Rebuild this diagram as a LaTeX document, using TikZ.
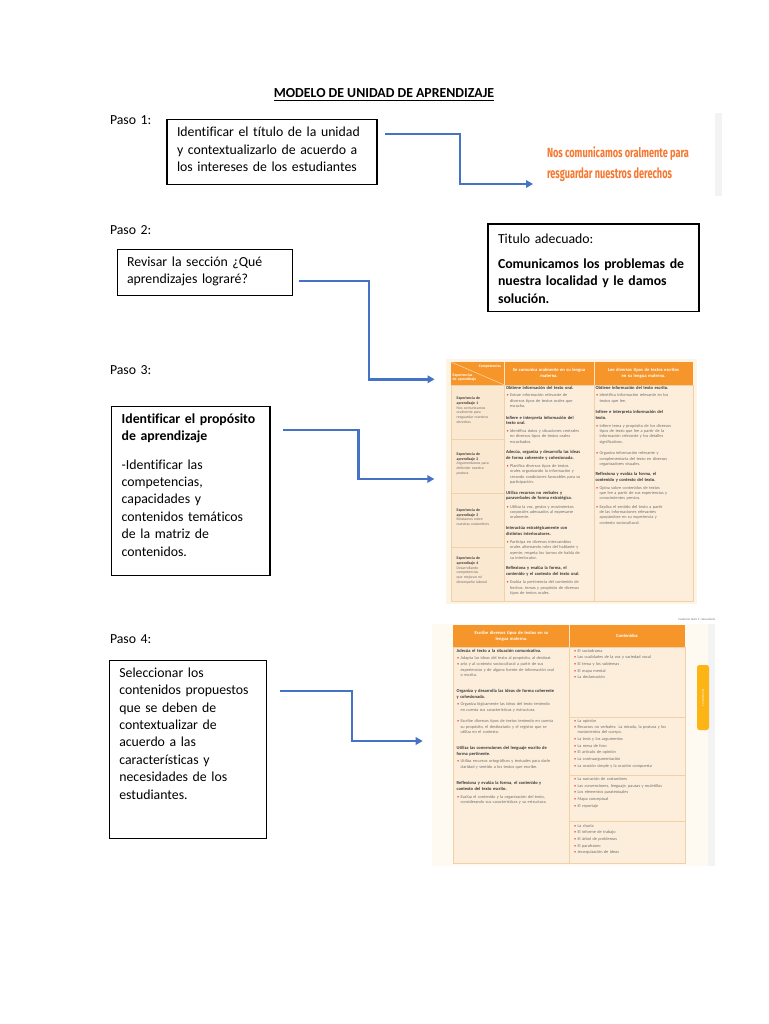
\documentclass[tikz,border=0pt]{standalone}
\usepackage{fontspec}
\usepackage{graphicx}
\setmainfont{Carlito}[Ligatures={NoCommon,NoRare}]
\newfontfamily\orfont{Fira Sans}
\usetikzlibrary{arrows.meta,calc}
\definecolor{flowblue}{HTML}{4472C4}
\definecolor{orangetxt}{HTML}{F7772F}
\definecolor{hdr}{HTML}{F6962A}
\definecolor{creamA}{HTML}{FDF4E6}
\definecolor{creamB}{HTML}{FCEEDB}
\definecolor{creamC}{HTML}{FBE8D0}
\definecolor{creamD}{HTML}{FEF9F1}
\definecolor{tline}{HTML}{F1D2A8}
\definecolor{bred}{HTML}{E8412F}
\definecolor{tdark}{HTML}{3A3A3A}
\definecolor{tgray}{HTML}{707070}
\definecolor{tabyel}{HTML}{FDB515}
\definecolor{strip}{HTML}{F3F3F3}
\newcommand\bu{\makebox[3.6pt][l]{\textcolor{bred}{\textbullet}}}
\newcommand\ct{\hspace*{3.6pt}}
\newcommand\xb[1]{\textcolor{tdark}{\textbf{#1}}}
\tikzset{
 every node/.style={inner sep=0pt, outer sep=0pt},
 stepbox/.style={draw=black, line width=1.2pt, fill=white, anchor=north west},
 maintxt/.style={anchor=base west, align=left, text width=220pt, font=\fontsize{13.8}{17.4}\selectfont},
 mainbf/.style={maintxt, font=\fontsize{13.8}{17.4}\selectfont\bfseries},
 flow/.style={draw=flowblue, line width=2.4pt, -{Triangle[length=7pt,width=7.5pt]}},
 colA/.style={anchor=base west, align=left, text width=60pt, text=tgray, font=\fontsize{3.8}{4.8}\selectfont},
 colH/.style={anchor=base west, align=left, text width=110pt, text=tdark, font=\fontsize{4.5}{5.4}\selectfont\bfseries},
 colB/.style={anchor=base west, align=left, text width=110pt, text=tgray, font=\fontsize{4.3}{5.4}\selectfont},
 tbH/.style={anchor=base west, align=left, text width=130pt, text=tdark, font=\fontsize{4.5}{5.7}\selectfont\bfseries},
 tbB/.style={anchor=base west, align=left, text width=130pt, text=tgray, font=\fontsize{4.3}{5.7}\selectfont},
 tbR/.style={anchor=base west, align=left, text width=130pt, text=tgray, font=\fontsize{4.3}{6.67}\selectfont},
 hdtxt/.style={text=white, font=\fontsize{4.6}{5.7}\selectfont\bfseries, align=center, anchor=base},
 tline/.style={draw=tline, line width=0.6pt}
}
\begin{document}
\begin{tikzpicture}[x=1pt,y=-1pt]
\useasboundingbox (0,0) rectangle (768,1024);
\fill[white] (0,0) rectangle (768,1024);

% title
\node[anchor=base, font=\fontsize{13.8}{17.4}\selectfont\bfseries] (title) at (384,97.3) {MODELO DE UNIDAD DE APRENDIZAJE};
\draw[line width=1pt] ($(title.base west)+(0,3.4)$) -- ($(title.base east)+(0,3.4)$);

% paso labels
\node[maintxt] (p1) at (110,125) {Paso 1:};
\node[maintxt] (p2) at (110,235) {Paso 2:};
\node[maintxt] (p3) at (110,374) {Paso 3:};
\node[maintxt] (p4) at (110,643.3) {Paso 4:};

% boxes
\node[stepbox, minimum width=210, minimum height=65] (b1) at (167,119.5) {};
\node[maintxt] (b1t) at (177,136.7) {Identificar el título de la unidad\\y contextualizarlo de acuerdo a\\los intereses de los estudiantes};

\node[stepbox, minimum width=175, minimum height=46.2] (b2) at (117.5,249.3) {};
\node[maintxt] (b2t) at (127,266.5) {Revisar la sección ¿Qué\\aprendizajes lograré?};

\node[stepbox, minimum width=211, minimum height=87.7] (b5) at (488,224) {};
\node[maintxt] (b5a) at (498,243.3) {Titulo adecuado:};
\node[mainbf] (b5b) at (498,268.3) {Comunicamos los problemas de\\nuestra localidad y le damos\\solución.};

\node[stepbox, minimum width=158.3, minimum height=169] (b3) at (111.7,406.7) {};
\node[mainbf] (b3a) at (121.7,423.3) {Identificar el propósito\\de aprendizaje};
\node[maintxt] (b3b) at (121.7,469) {-Identificar las\\competencias,\\capacidades y\\contenidos temáticos\\de la matriz de\\contenidos.};

\node[stepbox, minimum width=157.4, minimum height=177.6] (b4) at (109.3,660.7) {};
\node[maintxt] (b4t) at (119.3,677.3) {Seleccionar los\\contenidos propuestos\\que se deben de\\contextualizar de\\acuerdo a las\\características y\\necesidades de los\\estudiantes.};

% image 1 (title picture)
\node[fill=white, anchor=north west, minimum width=169, minimum height=83] (img1) at (546,113) {};
\fill[strip] (715,113) rectangle (722,196);
\node[anchor=base west, text=orangetxt] (or1) at (547,158) {\resizebox{142pt}{10.8pt}{\orfont\fontsize{14}{15}\selectfont\bfseries Nos comunicamos oralmente para}};
\node[anchor=base west, text=orangetxt] (or2) at (547,179) {\resizebox{125pt}{10.8pt}{\orfont\fontsize{14}{15}\selectfont\bfseries resguardar nuestros derechos}};

% table 1
\node[fill=creamA, anchor=north west, minimum width=251, minimum height=245] (tab1) at (446,359) {};
\fill[hdr] (451,362) rectangle (693,385);
\fill[creamC] (451,385) rectangle (504.5,601);
\fill[creamB] (504.5,385) rectangle (693,601);
\draw[tline] (451,385) rectangle (693,601);
\draw[tline] (504.5,385) -- (504.5,601) (594,385) -- (594,601);
\draw[tline] (451,439) -- (504.5,439) (451,493) -- (504.5,493) (451,547) -- (504.5,547);
\draw[white!75!hdr, line width=0.6pt] (504.5,362) -- (504.5,385) (594,362) -- (594,385);
\draw[white!65!hdr, line width=0.5pt] (451,362) -- (504.5,385);
\node[anchor=base east, text=white, font=\fontsize{3.8}{4.7}\selectfont\bfseries] (t1h0a) at (501,367.2) {Competencias};
\node[anchor=base west, align=left, text width=50pt, text=white, font=\fontsize{3.8}{4.7}\selectfont\bfseries] (t1h0b) at (452.7,376.2) {Experiencias\\de aprendizaje};
\node[hdtxt, text width=88pt] (t1h1) at (549,371.5) {Se comunica oralmente en su lengua\\materna.};
\node[hdtxt, text width=95pt] (t1h2) at (643.5,371.5) {Lee diversos tipos de textos escritos\\en su lengua materna.};

\node[colA] (t1r1) at (456.7,399.5) {\xb{Experiencia de}\\\xb{aprendizaje 1}\\Nos comunicamos\\oralmente para\\resguardar nuestros\\derechos};
\node[colA] (t1r2) at (456.7,455.2) {\xb{Experiencia de}\\\xb{aprendizaje 2}\\Argumentamos para\\defender nuestra\\postura};
\node[colA] (t1r3) at (456.7,511.2) {\xb{Experiencia de}\\\xb{aprendizaje 3}\\Relatamos sobre\\nuestras costumbres};
\node[colA] (t1r4) at (456.7,559.5) {\xb{Experiencia de}\\\xb{aprendizaje 4}\\Desarrollando\\competencias\\que mejoran mi\\desempeño laboral};

\node[colH] (c2h1) at (506,389.6) {Obtiene información del texto oral.};
\node[colB] (c2b1) at (506.5,396.6) {\bu Extrae información relevante de\\\ct diversos tipos de textos orales que\\\ct escucha.};
\node[colH] (c2h2) at (506,419) {Infiere e interpreta información del\\texto oral.};
\node[colB] (c2b2) at (506.5,432.3) {\bu Identifica datos y situaciones centrales\\\ct en diversos tipos de textos orales\\\ct escuchados.};
\node[colH] (c2h3) at (506,453.6) {Adecúa, organiza y desarrolla las ideas\\de forma coherente y cohesionada.};
\node[colB] (c2b3) at (506.5,467.3) {\bu Planifica diversos tipos de textos\\\ct orales organizando la información y\\\ct creando condiciones favorables para su\\\ct participación.};
\node[colH] (c2h4) at (506,494) {Utiliza recursos no verbales y\\paraverbales de forma estratégica.};
\node[colB] (c2b4) at (506.5,508) {\bu Utiliza la voz, gestos y movimientos\\\ct corporales adecuados al expresarse\\\ct oralmente.};
\node[colH] (c2h5) at (506,529.6) {Interactúa estratégicamente con\\distintos interlocutores.};
\node[colB] (c2b5) at (506.5,543.3) {\bu Participa en diversos intercambios\\\ct orales alternando roles del hablante y\\\ct oyente, respeta los turnos de habla de\\\ct su interlocutor.};
\node[colH] (c2h6) at (506,569.6) {Reflexiona y evalúa la forma, el\\contenido y el contexto del texto oral.};
\node[colB] (c2b6) at (506.5,583.6) {\bu Evalúa la pertinencia del contenido de\\\ct hechos, temas y propósito de diversos\\\ct tipos de textos orales.};

\node[colH] (c3h1) at (595.5,389.6) {Obtiene información del texto escrito.};
\node[colB] (c3b1) at (596,396.6) {\bu Identifica información relevante en los\\\ct textos que lee.};
\node[colH] (c3h2) at (595.5,413.6) {Infiere e interpreta información del\\texto.};
\node[colB] (c3b2) at (596,427) {\bu Infiere tema y propósito de los diversos\\\ct tipos de texto que lee a partir de la\\\ct información relevante y los detalles\\\ct significativos.};
\node[colB] (c3b3) at (596,454.6) {\bu Organiza información relevante y\\\ct complementaria del texto en diversos\\\ct organizadores visuales.};
\node[colH] (c3h3) at (595.5,475.6) {Reflexiona y evalúa la forma, el\\contenido y contexto del texto.};
\node[colB] (c3b4) at (596,489) {\bu Opina sobre contenidos de textos\\\ct que lee a partir de sus experiencias y\\\ct conocimientos previos.};
\node[colB] (c3b5) at (596,508) {\bu Explica el sentido del texto a partir\\\ct de las informaciones relevantes\\\ct apoyándose en su experiencia y\\\ct contexto sociocultural.};

% table 2
\node[fill=creamD, anchor=north west, minimum width=276, minimum height=242] (tab2) at (432,624) {};
\fill[strip] (708,624) rectangle (715,866);
\fill[creamB] (453,625) rectangle (685,863);
\fill[hdr] (453,625) rectangle (685,647);
\draw[tline] (453,647) rectangle (685,863);
\draw[tline] (569,647) -- (569,863) (569,717) -- (685,717) (569,775) -- (685,775) (569,821) -- (685,821);
\draw[white!75!hdr, line width=0.6pt] (569,625) -- (569,647);
\fill[tabyel, rounded corners=2.5pt] (697,665) rectangle (709,730);
\node[rotate=90, text=white, font=\fontsize{3}{3}\selectfont] (tabt) at (703,697.5) {Competencias};
\node[anchor=base east, text=tgray, font=\fontsize{3}{3}\selectfont] (t2top) at (715,620.5) {Cuaderno texto 3 · Secundaria};
\node[hdtxt, text width=115pt] (t2h1) at (511.5,634.8) {Escribe diversos tipos de textos en su\\lengua materna.};
\node[hdtxt] (t2h2) at (627,637.5) {Contenidos};

\node[tbH] (l2h1) at (456.7,652) {Adecúa el texto a la situación comunicativa.};
\node[tbB] (l2b1) at (457,659.6) {\bu Adapta las ideas del texto al propósito, al destinat\\\bu ario y al contexto sociocultural a partir de sus\\\ct experiencias y de alguna fuente de información oral\\\ct o escrita.};
\node[tbH] (l2h2) at (456.7,692.3) {Organiza y desarrolla las ideas de forma coherente\\y cohesionada.};
\node[tbB] (l2b2) at (457,705.6) {\bu Organiza lógicamente las ideas del texto teniendo\\\ct en cuenta sus características y estructura.};
\node[tbB] (l2b3) at (457,722.3) {\bu Escribe diversos tipos de textos teniendo en cuenta\\\ct su propósito, el destinatario y el registro que se\\\ct utiliza en el contexto.};
\node[tbH] (l2h3) at (456.7,749.6) {Utiliza las convenciones del lenguaje escrito de\\forma pertinente.};
\node[tbB] (l2b4) at (457,762.3) {\bu Utiliza recursos ortográficos y textuales para darle\\\ct claridad y sentido a los textos que escribe.};
\node[tbH] (l2h4) at (456.7,784.6) {Reflexiona y evalúa la forma, el contenido y\\contexto del texto escrito.};
\node[tbB] (l2b5) at (457,798) {\bu Evalúa el contenido y la organización del texto,\\\ct considerando sus características y su estructura.};

\node[tbR] (r2g1) at (574,652) {\bu El sociodrama\\\bu Las cualidades de la voz y variedad vocal\\\bu El tema y los subtemas\\\bu El mapa mental\\\bu La declamación};
\node[tbR] (r2g2) at (574,722) {\bu La opinión\\\bu Recursos no verbales: La mirada, la postura y los\\[-1.4pt]\ct movimientos del cuerpo.\\\bu La tesis y los argumentos\\\bu La mesa de foro\\\bu El artículo de opinión\\\bu La contraargumentación\\\bu La oración simple y la oración compuesta};
\node[tbR] (r2g3) at (574,780.6) {\bu La narración de costumbres\\\bu Las convenciones, lenguaje, pausas y muletillas\\\bu Los elementos paratextuales\\\bu Mapa conceptual\\\bu El reportaje};
\node[tbR] (r2g4) at (574,827) {\bu La charla\\\bu El informe de trabajo\\\bu El árbol de problemas\\\bu El parafraseo\\\bu Jerarquización de ideas};

% connectors
\coordinate (a1s) at ($(b1.north east)+(8,14.5)$);
\coordinate (a1e) at ($(img1.west)+(-13,29.5)$);
\coordinate (a2s) at ($(b2.north east)+(6.5,31.4)$);
\coordinate (a2e) at ($(tab1.north west)+(-11.4,20.3)$);
\coordinate (a3s) at ($(b3.north east)+(13.3,23.3)$);
\coordinate (a3e) at ($(tab1.north west)+(-11.7,120)$);
\coordinate (a4s) at ($(b4.north east)+(13.3,30.3)$);
\coordinate (a4e) at ($(tab2.north west)+(-9.3,117)$);
\draw[flow] (a1s) -- ++(75,0) |- (a1e);
\draw[flow] (a2s) -- ++(70,0) |- (a2e);
\draw[flow] (a3s) -- ++(75,0) |- (a3e);
\draw[flow] (a4s) -- ++(71.7,0) |- (a4e);
\end{tikzpicture}
\end{document}
